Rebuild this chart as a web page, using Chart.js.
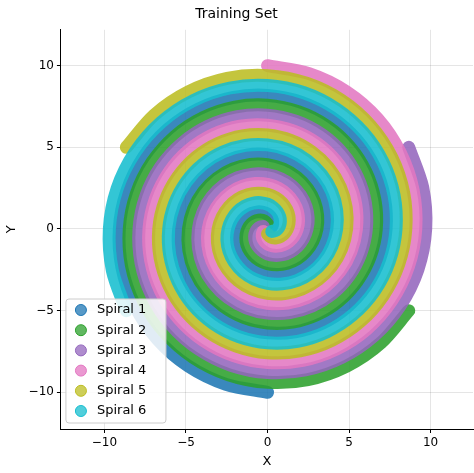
<!DOCTYPE html>
<html><head><meta charset="utf-8">
<script src="https://cdn.jsdelivr.net/npm/chart.js@4/dist/chart.umd.min.js"></script>
<style>html,body{margin:0;padding:0;background:#fff}</style>
</head><body>
<div style="width:474px;height:473px"><canvas id="c"></canvas></div>
<script>
const seriesNames = ["Spiral 1","Spiral 2","Spiral 3","Spiral 4","Spiral 5","Spiral 6"];
const seriesColors = ["#1f77b4","#2ca02c","#9467bd","#e377c2","#bcbd22","#17becf"];
const radii = [0.30,0.45,0.61,0.76,0.91,1.06,1.21,1.36,1.52,1.67,1.82,1.97,2.12,2.27,2.42,2.58,2.73,2.88,3.03,3.18,3.33,3.48,3.64,3.79,3.94,4.09,4.24,4.39,4.55,4.70,4.85,5.00,5.15,5.30,5.45,5.61,5.76,5.91,6.06,6.21,6.36,6.52,6.67,6.82,6.97,7.12,7.27,7.42,7.58,7.73,7.88,8.03,8.18,8.33,8.48,8.64,8.79,8.94,9.09,9.24,9.39,9.55,9.70,9.85,10.00];
const angles1 = [-690,-675,-660,-645,-630,-615,-600,-585,-570,-555,-540,-525,-510,-495,-480,-465,-450,-435,-420,-405,-390,-375,-360,-345,-330,-315,-300,-285,-270,-255,-240,-225,-210,-195,-180,-165,-150,-135,-120,-105,-90,-75,-60,-45,-30,-15,0,15,30,45,60,75,90,105,120,135,150,165,180,195,210,225,240,255,270];
const angles2 = [-630,-615,-600,-585,-570,-555,-540,-525,-510,-495,-480,-465,-450,-435,-420,-405,-390,-375,-360,-345,-330,-315,-300,-285,-270,-255,-240,-225,-210,-195,-180,-165,-150,-135,-120,-105,-90,-75,-60,-45,-30,-15,0,15,30,45,60,75,90,105,120,135,150,165,180,195,210,225,240,255,270,285,300,315,330];
const angles3 = [-570,-555,-540,-525,-510,-495,-480,-465,-450,-435,-420,-405,-390,-375,-360,-345,-330,-315,-300,-285,-270,-255,-240,-225,-210,-195,-180,-165,-150,-135,-120,-105,-90,-75,-60,-45,-30,-15,0,15,30,45,60,75,90,105,120,135,150,165,180,195,210,225,240,255,270,285,300,315,330,345,360,375,390];
const angles4 = [-510,-495,-480,-465,-450,-435,-420,-405,-390,-375,-360,-345,-330,-315,-300,-285,-270,-255,-240,-225,-210,-195,-180,-165,-150,-135,-120,-105,-90,-75,-60,-45,-30,-15,0,15,30,45,60,75,90,105,120,135,150,165,180,195,210,225,240,255,270,285,300,315,330,345,360,375,390,405,420,435,450];
const angles5 = [-450,-435,-420,-405,-390,-375,-360,-345,-330,-315,-300,-285,-270,-255,-240,-225,-210,-195,-180,-165,-150,-135,-120,-105,-90,-75,-60,-45,-30,-15,0,15,30,45,60,75,90,105,120,135,150,165,180,195,210,225,240,255,270,285,300,315,330,345,360,375,390,405,420,435,450,465,480,495,510];
const angles6 = [-390,-375,-360,-345,-330,-315,-300,-285,-270,-255,-240,-225,-210,-195,-180,-165,-150,-135,-120,-105,-90,-75,-60,-45,-30,-15,0,15,30,45,60,75,90,105,120,135,150,165,180,195,210,225,240,255,270,285,300,315,330,345,360,375,390,405,420,435,450,465,480,495,510,525,540,555,570];
const allAngles = [angles1,angles2,angles3,angles4,angles5,angles6];
const xTicks = [-10,-5,0,5,10];
const yTicks = [-10,-5,0,5,10];

function toXY(angs){
  const n = Math.min(angs.length, radii.length);
  const out = [];
  for(let i=0;i<n;i++){const t=angs[i]*Math.PI/180; out.push({x:radii[i]*Math.cos(t), y:radii[i]*Math.sin(t)});}
  return out;
}
const hexA=(h,a)=>{const n=parseInt(h.slice(1),16);return `rgba(${n>>16},${(n>>8)&255},${n&255},${a})`;};
const datasets = seriesNames.map((name,i)=>({
  label:name, data:toXY(allAngles[i]), showLine:true, tension:0.3,
  borderColor:hexA(seriesColors[i],0.88), backgroundColor:hexA(seriesColors[i],0.75),
  borderWidth:13, pointRadius:0, borderCapStyle:'round', borderJoinStyle:'round', order:6-i
}));

const legendPlugin = {
  id:'customLegend',
  afterDraw(chart){
    const ctx=chart.ctx, a=chart.chartArea;
    const x0=a.left+5, y0=a.bottom-130, w=100, h=124;
    ctx.save();
    ctx.fillStyle='rgba(255,255,255,0.85)'; ctx.strokeStyle='#cccccc'; ctx.lineWidth=1;
    ctx.beginPath(); ctx.roundRect(x0,y0,w,h,3); ctx.fill(); ctx.stroke();
    ctx.font='13px "DejaVu Sans"'; ctx.textBaseline='middle';
    seriesNames.forEach((n,i)=>{
      const y=y0+11+i*20.2;
      ctx.fillStyle=hexA(seriesColors[i],0.75); ctx.strokeStyle=seriesColors[i];
      ctx.beginPath(); ctx.arc(x0+15,y,5.5,0,Math.PI*2); ctx.fill(); ctx.stroke();
      ctx.fillStyle='#000'; ctx.fillText(n,x0+31,y);
    });
    ctx.restore();
  }
};

new Chart(document.getElementById('c'),{
  type:'scatter',
  data:{datasets},
  plugins:[legendPlugin],
  options:{
    responsive:true, maintainAspectRatio:false, animation:false,
    layout:{padding:{left:0,right:1,top:2,bottom:0}},
    plugins:{legend:{display:false}, tooltip:{enabled:false},
      title:{display:true,text:'Training Set',color:'#000',font:{family:'DejaVu Sans',size:14,weight:'normal'},padding:{top:4,bottom:7}}},
    scales:{
      x:{type:'linear',min:-12.67,max:12.6,
        afterBuildTicks:s=>{s.ticks=xTicks.map(v=>({value:v}));},
        grid:{color:'rgba(0,0,0,0.1)',tickColor:'#000',tickLength:4},
        border:{color:'#000'},
        ticks:{color:'#000',font:{family:'DejaVu Sans',size:12},callback:v=>String(v).replace('-','\u2212')},
        title:{display:true,text:'X',color:'#000',font:{family:'DejaVu Sans',size:13},padding:{top:0}}},
      y:{type:'linear',min:-12.25,max:12.2,
        afterBuildTicks:s=>{s.ticks=yTicks.map(v=>({value:v}));},
        grid:{color:'rgba(0,0,0,0.1)',tickColor:'#000',tickLength:4},
        border:{color:'#000'},
        ticks:{color:'#000',font:{family:'DejaVu Sans',size:12},callback:v=>String(v).replace('-','\u2212')},
        title:{display:true,text:'Y',color:'#000',font:{family:'DejaVu Sans',size:13},padding:{bottom:6}}}
    }
  }
});
</script>
</body></html>
